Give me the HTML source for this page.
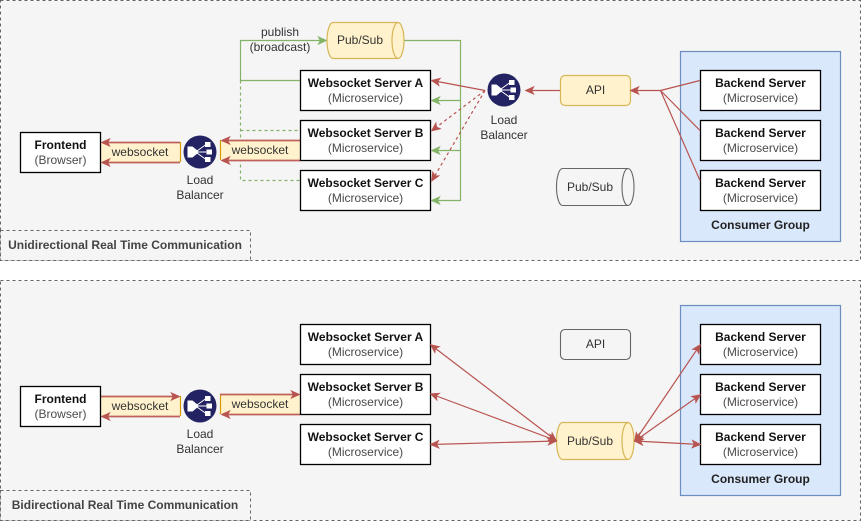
<!DOCTYPE html>
<html><head><meta charset="utf-8"><style>
html,body{margin:0;padding:0;background:#fff}
svg{display:block}
text{font-family:"Liberation Sans",sans-serif;font-size:12px;text-anchor:middle;fill:#333}
.b{font-weight:bold;fill:#111}
.l{font-weight:bold;fill:#444}
.c{font-weight:bold;fill:#222}
.g{fill:#4a4a4a}
.box{fill:#fff;stroke:#000;stroke-width:1.3}
.red{stroke:#b85450;stroke-width:1.2;fill:none}
.grn{stroke:#82b366;stroke-width:1.2;fill:none}
.y{fill:#fff2cc;stroke:#d6b656;stroke-width:1.2}
.ws{fill:#fff2cc}
.wsl{stroke:#d79b00;stroke-width:1.2;fill:none}
.wr{stroke:#c0605a;stroke-width:1.7;fill:none}
.pan{fill:#f5f5f5;stroke:#666;stroke-width:1;stroke-dasharray:3 3}
.lab{fill:#f5f5f5;stroke:#666;stroke-width:1;stroke-dasharray:3 3}
.blue{fill:#dae8fc;stroke:#6c8ebf;stroke-width:1.2}
</style></head><body>
<svg width="862" height="521" viewBox="0 0 862 521" xmlns="http://www.w3.org/2000/svg">
<defs>
<marker id="mr" viewBox="0 0 10 10" refX="9" refY="5" markerWidth="9" markerHeight="9" markerUnits="userSpaceOnUse" orient="auto-start-reverse" overflow="visible"><path d="M0 0.5L10 5L0 9.5L2.5 5Z" fill="#b85450" stroke="#b85450" stroke-width="0.6"/></marker>
<marker id="mg" viewBox="0 0 10 10" refX="9" refY="5" markerWidth="9" markerHeight="9" markerUnits="userSpaceOnUse" orient="auto" overflow="visible"><path d="M0 0.5L10 5L0 9.5L2.5 5Z" fill="#82b366" stroke="#82b366" stroke-width="0.6"/></marker>
<g id="lb">
<circle r="16.5" fill="#232363"/>
<path d="M-3 0H7M-3 -1L6 -7.500M-3 1L6 7.500" stroke="#fff" stroke-width="1" fill="none"/>
<path d="M-12.500 -5.500H-7.500L-2 -1V1L-7.500 5.500H-12.500Z" fill="#fff"/>
<rect x="5" y="-10" width="5.500" height="5" fill="#fff"/>
<rect x="6.500" y="-2.500" width="5.500" height="5" fill="#fff"/>
<rect x="5" y="5" width="5.500" height="5" fill="#fff"/>
</g>
</defs>

<rect class="pan" x="0.500" y="0.500" width="860" height="260"/>
<rect class="pan" x="0.500" y="280.500" width="860" height="240"/>

<rect class="lab" x="0.500" y="230.500" width="250" height="30"/>
<text class="l" x="125" y="249">Unidirectional Real Time Communication</text>
<rect class="lab" x="0.500" y="490.500" width="250" height="30"/>
<text class="l" x="125" y="509">Bidirectional Real Time Communication</text>

<!-- TOP -->
<rect class="blue" x="680.500" y="51.500" width="160" height="190"/>
<text class="c" x="760.500" y="229">Consumer Group</text>

<path class="grn" d="M300 80.500H240.500V40.500H326" marker-end="url(#mg)"/>
<path class="grn" d="M240.500 80.500V180.500H300M240.500 130.500H300" stroke-dasharray="3 3"/>
<path class="grn" d="M404 40.500H460.500V200.500H432" marker-end="url(#mg)"/>
<path class="grn" d="M460.500 100.500H432" marker-end="url(#mg)"/>
<path class="grn" d="M460.500 150.500H432" marker-end="url(#mg)"/>

<text x="280" y="36">publish</text>
<text x="280" y="51">(broadcast)</text>

<path class="y" d="M333 22.500H398A6 18 0 0 1 398 58.500H333A6 18 0 0 1 333 22.500Z"/>
<path d="M398 22.500A6 18 0 0 0 398 58.500" fill="none" stroke="#d6b656" stroke-width="1.200"/>
<text x="360" y="44">Pub/Sub</text>

<rect class="ws" x="100" y="142" width="80.500" height="20"/>
<path class="wsl" d="M180.500 142V162"/>
<path class="wr" d="M180 142.500H102" marker-end="url(#mr)"/>
<path class="wr" d="M180 162.500H102" marker-end="url(#mr)"/>
<text x="140" y="156">websocket</text>

<rect class="ws" x="220.500" y="140" width="80" height="20"/>
<path class="wsl" d="M220.500 140V160"/>
<path class="wr" d="M300 140.500H222" marker-end="url(#mr)"/>
<path class="wr" d="M300 160.500H222" marker-end="url(#mr)"/>
<text x="260" y="154">websocket</text>

<rect class="box" x="20.500" y="132.500" width="80" height="40"/>
<text class="b" x="60.500" y="149">Frontend</text>
<text class="g" x="60.500" y="164">(Browser)</text>

<use href="#lb" x="200" y="152"/>
<text x="200" y="184">Load</text>
<text x="200" y="199">Balancer</text>

<rect class="box" x="300.500" y="70.500" width="130" height="40"/>
<text class="b" x="365.500" y="87">Websocket Server A</text>
<text class="g" x="365.500" y="102">(Microservice)</text>
<rect class="box" x="300.500" y="120.500" width="130" height="40"/>
<text class="b" x="365.500" y="137">Websocket Server B</text>
<text class="g" x="365.500" y="152">(Microservice)</text>
<rect class="box" x="300.500" y="170.500" width="130" height="40"/>
<text class="b" x="365.500" y="187">Websocket Server C</text>
<text class="g" x="365.500" y="202">(Microservice)</text>

<path class="red" d="M485 90.500L432 80.500" marker-end="url(#mr)"/>
<path class="red" d="M485 90.500L432 130.500" stroke-dasharray="3 3" marker-end="url(#mr)"/>
<path class="red" d="M485 90.500L432 180.500" stroke-dasharray="3 3" marker-end="url(#mr)"/>

<use href="#lb" x="504" y="90"/>
<text x="504" y="124">Load</text>
<text x="504" y="139">Balancer</text>

<path class="red" d="M560 90.500H526" marker-end="url(#mr)"/>
<rect class="y" x="560.500" y="75.500" width="70" height="30" rx="4.500"/>
<text x="595.500" y="94">API</text>
<path class="red" d="M660.500 90.500H631" marker-end="url(#mr)"/>

<rect class="box" x="700.500" y="70.500" width="120" height="40"/>
<text class="b" x="760.500" y="87">Backend Server</text>
<text class="g" x="760.500" y="102">(Microservice)</text>
<rect class="box" x="700.500" y="120.500" width="120" height="40"/>
<text class="b" x="760.500" y="137">Backend Server</text>
<text class="g" x="760.500" y="152">(Microservice)</text>
<rect class="box" x="700.500" y="170.500" width="120" height="40"/>
<text class="b" x="760.500" y="187">Backend Server</text>
<text class="g" x="760.500" y="202">(Microservice)</text>
<path class="red" d="M700 80.500L660.500 90.500L700 130.500M660.500 90.500L700 180.500"/>

<path d="M562.500 168.500H628A6 18.500 0 0 1 628 205.500H562.500A6 18.500 0 0 1 562.500 168.500Z" fill="none" stroke="#666" stroke-width="1.100"/>
<path d="M628 168.500A6 18.500 0 0 0 628 205.500" fill="none" stroke="#666" stroke-width="1.100"/>
<text x="590" y="191">Pub/Sub</text>

<!-- BOTTOM -->
<rect class="blue" x="680.500" y="305.500" width="160" height="190"/>
<text class="c" x="760.500" y="483">Consumer Group</text>

<rect class="ws" x="100" y="396" width="80.500" height="20"/>
<path class="wsl" d="M180.500 396V416"/>
<path class="wr" d="M100 396.500H179" marker-end="url(#mr)"/>
<path class="wr" d="M180 416.500H102" marker-end="url(#mr)"/>
<text x="140" y="410">websocket</text>

<rect class="ws" x="220.500" y="394" width="80" height="20"/>
<path class="wsl" d="M220.500 394V414"/>
<path class="wr" d="M220 394.500H299" marker-end="url(#mr)"/>
<path class="wr" d="M300 414.500H222" marker-end="url(#mr)"/>
<text x="260" y="408">websocket</text>

<rect class="box" x="20.500" y="386.500" width="80" height="40"/>
<text class="b" x="60.500" y="403">Frontend</text>
<text class="g" x="60.500" y="418">(Browser)</text>

<use href="#lb" x="200" y="406"/>
<text x="200" y="438">Load</text>
<text x="200" y="453">Balancer</text>

<rect class="box" x="300.500" y="324.500" width="130" height="40"/>
<text class="b" x="365.500" y="341">Websocket Server A</text>
<text class="g" x="365.500" y="356">(Microservice)</text>
<rect class="box" x="300.500" y="374.500" width="130" height="40"/>
<text class="b" x="365.500" y="391">Websocket Server B</text>
<text class="g" x="365.500" y="406">(Microservice)</text>
<rect class="box" x="300.500" y="424.500" width="130" height="40"/>
<text class="b" x="365.500" y="441">Websocket Server C</text>
<text class="g" x="365.500" y="456">(Microservice)</text>

<rect x="560.500" y="329.500" width="70" height="30" rx="4.500" fill="none" stroke="#666" stroke-width="1.100"/>
<text x="595.500" y="348">API</text>

<path class="y" d="M562.500 422.500H628A6 18.500 0 0 1 628 459.500H562.500A6 18.500 0 0 1 562.500 422.500Z"/>
<path d="M628 422.500A6 18.500 0 0 0 628 459.500" fill="none" stroke="#d6b656" stroke-width="1.200"/>
<text x="590" y="445">Pub/Sub</text>

<rect class="box" x="700.500" y="324.500" width="120" height="40"/>
<text class="b" x="760.500" y="341">Backend Server</text>
<text class="g" x="760.500" y="356">(Microservice)</text>
<rect class="box" x="700.500" y="374.500" width="120" height="40"/>
<text class="b" x="760.500" y="391">Backend Server</text>
<text class="g" x="760.500" y="406">(Microservice)</text>
<rect class="box" x="700.500" y="424.500" width="120" height="40"/>
<text class="b" x="760.500" y="441">Backend Server</text>
<text class="g" x="760.500" y="456">(Microservice)</text>

<path class="red" d="M431 345L556 440.500" marker-start="url(#mr)" marker-end="url(#mr)"/>
<path class="red" d="M431 394L556 440.500" marker-start="url(#mr)" marker-end="url(#mr)"/>
<path class="red" d="M431 444.500L556 441" marker-start="url(#mr)" marker-end="url(#mr)"/>
<path class="red" d="M635 441L700 345" marker-start="url(#mr)" marker-end="url(#mr)"/>
<path class="red" d="M635 441L700 395" marker-start="url(#mr)" marker-end="url(#mr)"/>
<path class="red" d="M635 441L700 444.500" marker-start="url(#mr)" marker-end="url(#mr)"/>
</svg>
</body></html>
